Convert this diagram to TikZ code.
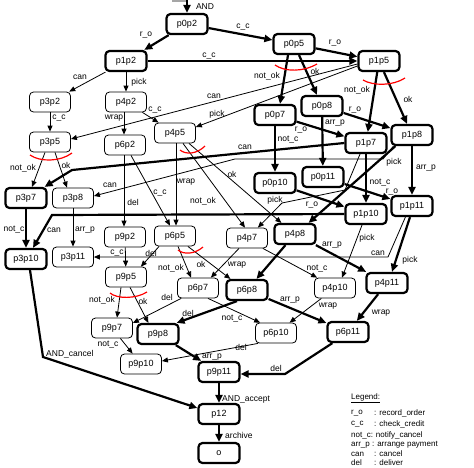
\documentclass[tikz,border=0pt]{standalone}
\usepackage{fontspec}
\setmainfont{Liberation Sans}
\usetikzlibrary{arrows.meta,calc}
\begin{document}
\begin{tikzpicture}[x=1pt,y=-1pt,
  st/.style={draw, rounded corners=4pt, minimum width=41pt, minimum height=20pt, inner sep=0pt, font=\fontsize{9}{9}\selectfont, line width=0.8pt},
  stk/.style={st, line width=2.2pt},
  e/.style={line width=0.8pt, -{Triangle[length=6pt,width=5pt]}},
  ek/.style={line width=2.2pt, -{Triangle[length=8pt,width=7pt]}},
  lb/.style={font=\fontsize{8.5}{8.5}\selectfont, inner sep=0pt},
  lbw/.style={lb, anchor=west},
  orarc/.style={red, line width=1.2pt},
  lg/.style={font=\fontsize{8}{8}\selectfont, inner sep=0pt, anchor=west}
]
\useasboundingbox (0,0) rectangle (474,467);

% nodes
\node[stk] (p0p2) at (187,24) {p0p2};
\node[stk] (p0p5) at (294,44) {p0p5};
\node[stk] (p1p2) at (126,61) {p1p2};
\node[stk] (p1p5) at (379,61) {p1p5};
\node[st]  (p3p2) at (50,102) {p3p2};
\node[st]  (p4p2) at (126,102) {p4p2};
\node[st]  (p3p5) at (50,142) {p3p5};
\node[st]  (p6p2) at (125,145) {p6p2};
\node[st]  (p4p5) at (175,133) {p4p5};
\node[stk] (p0p7) at (275,115) {p0p7};
\node[stk] (p0p8) at (322,106) {p0p8};
\node[stk] (p1p7) at (366,143) {p1p7};
\node[stk] (p1p8) at (412,135) {p1p8};
\node[stk] (p0p10) at (275,183) {p0p10};
\node[stk] (p0p11) at (323,177) {p0p11};
\node[stk] (p1p10) at (366,214) {p1p10};
\node[stk] (p1p11) at (412,206) {p1p11};
\node[stk] (p3p7) at (26,198) {p3p7};
\node[st]  (p3p8) at (73,198) {p3p8};
\node[stk] (p3p10) at (26,259) {p3p10};
\node[st]  (p3p11) at (73,257) {p3p11};
\node[st]  (p9p2) at (125,237) {p9p2};
\node[st]  (p6p5) at (175,236) {p6p5};
\node[st]  (p9p5) at (126,277) {p9p5};
\node[st]  (p4p7) at (247,238) {p4p7};
\node[stk] (p4p8) at (295,234) {p4p8};
\node[st]  (p6p7) at (198,288) {p6p7};
\node[stk] (p6p8) at (247,290) {p6p8};
\node[st]  (p4p10) at (335,288) {p4p10};
\node[stk] (p4p11) at (387,283) {p4p11};
\node[st]  (p9p7) at (112,328) {p9p7};
\node[stk] (p9p8) at (158,334) {p9p8};
\node[st]  (p9p10) at (141,364) {p9p10};
\node[st]  (p6p10) at (276,333) {p6p10};
\node[stk] (p6p11) at (348,332) {p6p11};
\node[stk] (p9p11) at (219,372) {p9p11};
\node[stk] (p12) at (219,414) {p12};
\node[stk] (o) at (219,453) {o};

% bend points
\coordinate (src) at (187,0);
\coordinate (b1) at (72,170);
\coordinate (b2) at (383,159);
\coordinate (b3) at (235,159);
\coordinate (b4) at (52,215);
\coordinate (b5) at (388,257);
\coordinate (b6) at (345,190);
\coordinate (b7) at (282,203);
\coordinate (b8) at (285,374);
\coordinate (b9) at (43,357);

% top
\fill[gray!70] (172,0) rectangle (187,2);
\draw[ek] (src) -- (p0p2);
\node[lb] (lAND) at (205,7) {AND};

% thick edges
\draw[ek] (p0p2) -- (p1p2);
\draw[ek] (p0p2) -- (p0p5);
\draw[ek] (p1p2) -- (p1p5);
\draw[ek] (p0p5) -- (p1p5);
\draw[ek] ($(p0p5.south)+(-6,0)$) -- ($(p0p7.north)+(5,0)$);
\draw[ek] (p0p5) -- (p0p8);
\draw[ek] (p1p5) -- (p1p7);
\draw[ek] (p1p5) -- (p1p8);
\draw[ek] (p0p7) -- (p1p7);
\draw[ek] (p0p8) -- (p1p8);
\draw[ek] (p0p8) -- (p0p11);
\draw[ek] (p0p7) -- (p0p10);
\draw[ek] (p1p7) -- (p1p10);
\draw[ek] (p1p8) -- (p1p11);
\draw[ek] (p0p10) -- (p1p10);
\draw[ek] (p0p11) -- (p1p11);
\draw[ek] (p1p7.west) -- (b1) -- ($(p3p7.north east)+(-3,0)$);
\draw[ek] (p1p10.west) -- (b4) -- ($(p3p10.north)+(7,0)$);
\draw[ek] (p3p7) -- (p3p10);
\draw[ek] ($(p1p8.south west)+(5,0)$) -- ($(p4p8.north east)+(-8,0)$);
\draw[ek] ($(p1p11.south)+(-2,0)$) -- ($(p4p11.north)+(5,0)$);
\draw[ek] (p4p8) -- (p6p8);
\draw[ek] (p4p8) -- (p4p11);
\draw[ek] (p4p11) -- (p6p11);
\draw[ek] (p6p8) -- (p6p11);
\draw[ek] ($(p6p8.south)+(-10,0)$) -- ($(p9p8.north east)+(-3,0)$);
\draw[ek] ($(p6p11.south west)+(6,0)$) -- (b8) -- ($(p9p11.east)+(0,2)$);
\draw[ek] (p9p8) -- (p9p11);
\draw[ek] (p9p11) -- (p12);
\draw[ek] (p12) -- (o);
\draw[ek] ($(p3p10.south)+(4,0)$) -- (b9) -- ($(p12.west)+(0,-6)$);

% thin edges
\draw[e] (p1p2) -- (p3p2);
\draw[e] (p1p2) -- (p4p2);
\draw[e] (p3p2) -- (p3p5);
\draw[e] ($(p4p2.south)+(-2,0)$) -- ($(p6p2.north)+(-1,0)$);
\draw[e] (p4p2) -- (p4p5);
\draw[e] ($(p1p5.west)+(0,3)$) -- ($(p3p5.east)+(0,-3)$);
\draw[e] ($(p1p5.west)+(0,5)$) -- ($(p4p5.east)+(0,-6)$);
\draw[e] ($(p4p5.south)+(1,0)$) -- ($(p6p5.north)+(1,0)$);
\draw[e] ($(p4p5.south)+(8,0)$) -- ($(p4p7.north)+(-2,0)$);
\draw[e] ($(p4p5.south)+(14,0)$) -- ($(p4p8.north west)+(8,0)$);
\draw[e] ($(p6p2.south)+(-1,0)$) -- ($(p9p2.north)+(-1,0)$);
\draw[e] ($(p6p2.south)+(6,0)$) -- ($(p6p5.north)+(-5,0)$);
\draw[e] ($(p3p5.south)+(-5,0)$) -- ($(p3p7.north)+(6,0)$);
\draw[e] ($(p3p5.south)+(5,0)$) -- ($(p3p8.north)+(-6,0)$);
\draw[e] (p3p8) -- (p3p11);
\draw[e] ($(p1p8.south west)+(3,0)$) -- (b2) -- (b3) -- ($(p3p8.east)+(0,-2)$);
\draw[e] ($(p1p11.south west)+(15,0)$) -- (b5) -- (p3p11.east);
\draw[e] ($(p1p7.south)+(-6,0)$) -- (b6) -- (b7) -- ($(p4p7.north east)+(-10,0)$);
\draw[e] ($(p1p10.south)+(-4,0)$) -- ($(p4p10.north)+(7,0)$);
\draw[e] ($(p4p7.south)+(-8,0)$) -- ($(p6p7.north east)+(-8,0)$);
\draw[e] ($(p4p7.south east)+(-5,0)$) -- ($(p4p10.north west)+(3,0)$);
\draw[e] (p4p10) -- (p6p10);
\draw[e] ($(p6p7.south west)+(4,0)$) -- ($(p9p7.east)+(0,-5)$);
\draw[e] ($(p6p7.south)+(10,0)$) -- ($(p6p10.north west)+(5,0)$);
\draw[e] ($(p6p10.south west)+(3,0)$) -- ($(p9p10.east)+(0,-3)$);
\draw[e] (p9p7) -- (p9p10);
\draw[e] (p9p2) -- (p9p5);
\draw[e] ($(p6p5.south west)+(5,0)$) -- ($(p9p5.north east)+(-6,0)$);
\draw[e] ($(p6p5.south)+(3,0)$) -- ($(p6p7.north)+(-7,0)$);
\draw[e] ($(p6p5.south east)+(-8,0)$) -- ($(p6p8.north west)+(5,0)$);
\draw[e] ($(p9p5.south)+(-5,0)$) -- ($(p9p7.north)+(5,0)$);
\draw[e] ($(p9p5.south)+(4,0)$) -- ($(p9p8.north west)+(12,0)$);

% red or-split arcs
\draw[orarc] (275,65) .. controls (285,72) and (303,72) .. (317,64);
\draw[orarc] (363,80) .. controls (373,86) and (393,86) .. (405,78);
\draw[orarc] (30,155) .. controls (40,162) and (60,162) .. (72,153);
\draw[orarc] (180,150) .. controls (186,155) and (197,154) .. (205,146);
\draw[orarc] (178,250) .. controls (184,255) and (195,254) .. (203,247);
\draw[orarc] (110,293) .. controls (117,299) and (136,299) .. (147,292);

% edge labels
\node[lb] (l01) at (146,35) {r\_o};
\node[lb] (l02) at (243,27) {c\_c};
\node[lb] (l03) at (209,56) {c\_c};
\node[lb] (l04) at (335,43) {r\_o};
\node[lb] (l05) at (267,76) {not\_ok};
\node[lb] (l06) at (315,71) {ok};
\node[lb] (l07) at (357,90) {not\_ok};
\node[lb] (l08) at (408,99) {ok};
\node[lb] (l09) at (80,77) {can};
\node[lb] (l10) at (139,82) {pick};
\node[lb] (l11) at (59,118) {c\_c};
\node[lb] (l12) at (114,118) {wrap};
\node[lb] (l13) at (155,110) {c\_c};
\node[lb] (l14) at (214,96) {can};
\node[lb] (l15) at (217,114) {pick};
\node[lb] (l16) at (186,182) {wrap};
\node[lb] (l17) at (203,201) {not\_ok};
\node[lb] (l18) at (232,174) {ok};
\node[lb] (l19) at (133,202) {del};
\node[lb] (l20) at (160,193) {c\_c};
\node[lb] (l21) at (23,168) {not\_ok};
\node[lb] (l22) at (66,165) {ok};
\node[lb] (l23) at (14,230) {not\_c};
\node[lb] (l24) at (85,230) {arr\_p};
\node[lb] (l25) at (245,147) {can};
\node[lb] (l26) at (110,185) {can};
\node[lb] (l27) at (54,230) {can};
\node[lb] (l28) at (378,253) {can};
\node[lb] (l29) at (275,200) {pick};
\node[lb] (l30) at (394,162) {pick};
\node[lb] (l31) at (367,238) {pick};
\node[lb] (l32) at (410,260) {pick};
\node[lb] (l33) at (301,130) {r\_o};
\node[lb] (l34) at (355,110) {r\_o};
\node[lb] (l35) at (335,123) {arr\_p};
\node[lb] (l36) at (288,140) {not\_c};
\node[lb] (l37) at (380,183) {not\_c};
\node[lb] (l38) at (426,168) {arr\_p};
\node[lb] (l39) at (312,205) {r\_o};
\node[lb] (l40) at (392,192) {r\_o};
\node[lb] (l41) at (237,265) {wrap};
\node[lb] (l42) at (317,269) {not\_c};
\node[lb] (l43) at (332,245) {arr\_p};
\node[lb] (l44) at (381,313) {wrap};
\node[lb] (l45) at (328,306) {wrap};
\node[lb] (l46) at (290,300) {arr\_p};
\node[lb] (l47) at (188,313) {del};
\node[lb] (l48) at (167,297) {del};
\node[lb] (l49) at (232,319) {not\_c};
\node[lb] (l50) at (241,347) {del};
\node[lb] (l51) at (276,368) {del};
\node[lb] (l52) at (212,357) {arr\_p};
\node[lb] (l53) at (108,345) {not\_c};
\node[lbw] (l54) at (222,399) {AND\_accept};
\node[lbw] (l55) at (225,435) {archive};
\node[lbw] (l56) at (46,354) {AND\_cancel};
\node[lb] (l57) at (117,253) {c\_c};
\node[lb] (l58) at (151,253) {del};
\node[lb] (l59) at (171,268) {not\_ok};
\node[lb] (l60) at (201,264) {ok};
\node[lb] (l61) at (102,300) {not\_ok};
\node[lb] (l62) at (143,301) {ok};

% legend
\node[lg] (lgh) at (351,398) {\underline{Legend:}};
\node[lg] (lg1a) at (351,413) {r\_o};
\node[lg] (lg1b) at (374,413) {: record\_order};
\node[lg] (lg2a) at (351,424) {c\_c};
\node[lg] (lg2b) at (374,424) {: check\_credit};
\node[lg] (lg3) at (351,435) {not\_c: notify\_cancel};
\node[lg] (lg4) at (351,445) {arr\_p : arrange payment};
\node[lg] (lg5a) at (351,454) {can};
\node[lg] (lg5b) at (374,454) {: cancel};
\node[lg] (lg6a) at (351,463) {del};
\node[lg] (lg6b) at (374,463) {: deliver};
\end{tikzpicture}
\end{document}
